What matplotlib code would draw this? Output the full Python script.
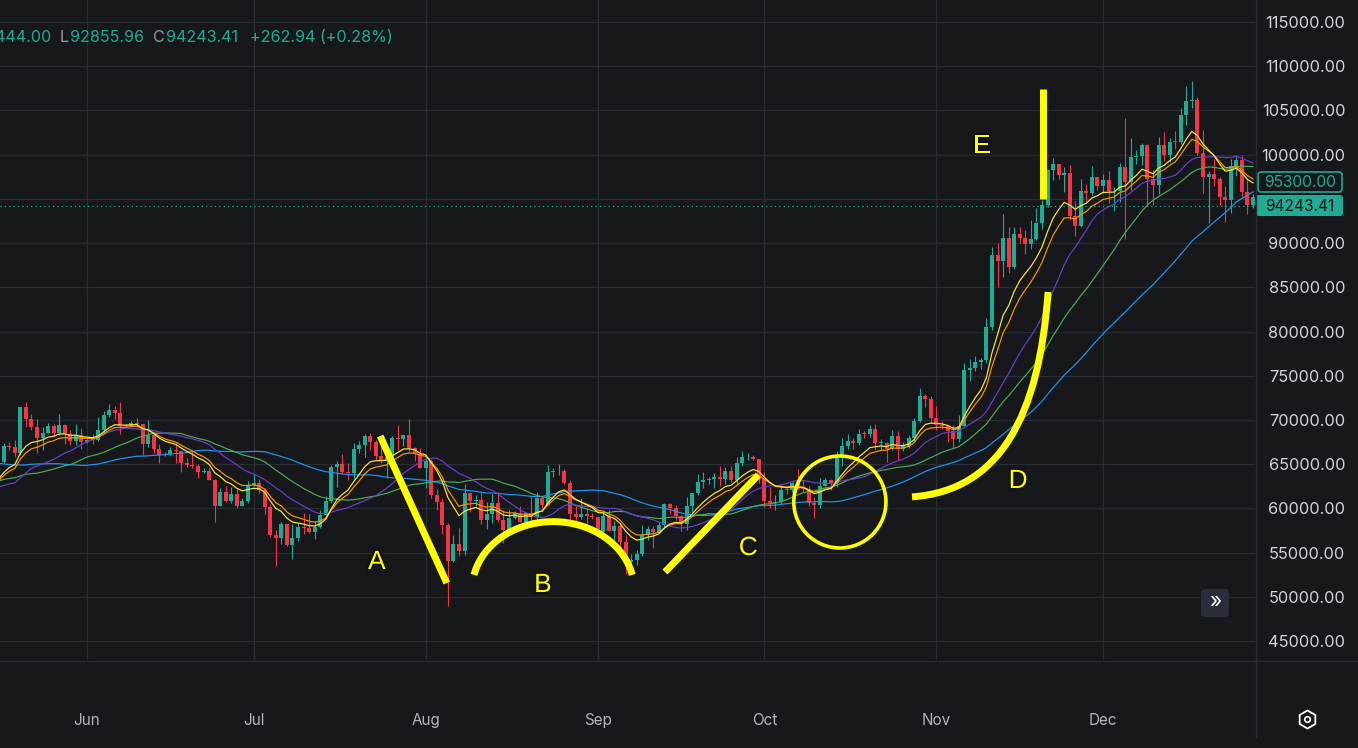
import numpy as np
import pandas as pd
import matplotlib.pyplot as plt
import matplotlib.patheffects as pe
from matplotlib.patches import Ellipse, PathPatch, FancyBboxPatch
from matplotlib.path import Path

# closes from 27 Mar to 15 May 2024, only used to warm up the moving averages
warmup_close = [69455, 70744, 69892, 69645, 71333,
                69702, 65446, 65980, 68508, 67837, 68897, 69362, 71632, 69140, 70587,
                70060, 67195, 63817, 65738, 63426, 63811, 61276, 63512, 63843, 64994,
                64927, 66837, 66407, 64277, 64482, 63756, 63419, 63114, 63841, 60637,
                58254, 59123, 62889, 63892, 64031, 63162, 62334, 61188, 63049, 60793,
                60793, 61448, 62901, 61553, 66254]

# daily BTC candles, 16 May .. 28 Dec 2024 (open = previous close)
close = [65231, 67051, 66940, 66278, 71446, 70148, 69166, 67970, 68549, 69290, 68507, 69436, 68398, 67652, 68352, 67540,
         67766, 67765, 68809, 70568, 71083, 70757, 69342, 69306, 69648, 69508, 67321, 68243, 66756, 66011, 66191,
         66639, 66491, 65140, 64960, 64828, 64096, 64252, 63180, 60277, 61804, 60811, 61604, 60320, 60887, 62678,
         62851, 62029, 60173, 56977, 56639, 58230, 55849, 56705, 57899, 57741, 57334, 57889, 59204, 60797, 64724,
         65044, 64087, 63987, 66660, 67139, 68165, 67532, 65936, 65372, 65777, 67912, 67813, 68255, 66819, 66201, 64619,
         65354, 61498, 60697, 58161, 54018, 56022, 55134, 61685, 60837, 60923, 58712, 59346, 60587, 58683, 57541,
         58874, 59491, 58427, 59439, 59013, 61157, 60381, 64095, 64179, 64255, 62821, 59415, 59034, 59359, 59123, 58973,
         57301, 59132, 57487, 57971, 56160, 53962, 54160, 54869, 57042, 57635, 57338, 58132, 60498, 59993, 59132,
         58213, 60309, 61759, 62947, 63201, 63348, 63578, 63339, 64262, 63152, 65173, 65769, 65858, 65602, 63327,
         60805, 60650, 60752, 62086, 62058, 62819, 62224, 62160, 60636, 60326, 62540, 63206, 62870, 66083, 67074,
         67620, 67421, 68428, 68378, 69031, 67377, 67426, 66668, 68198, 66698, 67012, 67961, 69908, 72721, 72340, 70215,
         69482, 69289, 68741, 67811, 69359, 75639, 75905, 76545, 76778, 80474, 88701, 87955, 90584, 87250, 91032,
         90587, 89855, 90465, 92310, 94286, 98317, 98892, 97672, 97900, 93010, 91966, 95863, 95643, 97460, 96407,
         97185, 95840, 95849, 98587, 96945, 99740, 99831, 101109, 97276, 96593, 101125, 100004, 101424, 101420,
         104463, 106058, 106133, 100204, 97461, 97805, 97291, 95186, 94881, 98663, 99429, 95792, 94299, 95163]
high = [66700, 67400, 67450, 67700, 71515, 71980, 70666, 70096, 69250, 69610, 69562, 70687, 69560, 68913, 69500, 69044,
        67860, 68410, 70288, 71063, 71758, 71625, 71997, 69582, 69850, 70195, 69563, 69999, 68450, 67315, 66403,
        66992, 67244, 66492, 65727, 66482, 65067, 64520, 64524, 63369, 62292, 62480, 62371, 62189, 61198, 63058,
        63861, 63288, 62282, 60498, 57546, 58475, 58242, 58236, 58296, 59470, 59359, 58526, 59850, 61420, 64900,
        65388, 66128, 65133, 67386, 67598, 68366, 68480, 67750, 67102, 66112, 68200, 69399, 68318, 70079, 66900, 66810,
        65593, 65596, 62198, 61117, 58305, 57040, 57728, 62745, 61744, 61470, 61858, 60711, 61578, 61800, 59849,
        59817, 59700, 60284, 59618, 61400, 61820, 61400, 64955, 64513, 65000, 64491, 63210, 60236, 61166, 59944, 59462,
        59063, 59425, 59809, 58519, 58327, 56995, 54850, 55318, 58088, 58044, 57995, 58588, 60625, 60610, 60381,
        59210, 61320, 61786, 63850, 64133, 63559, 64000, 64745, 64688, 64817, 65839, 66498, 66260, 66076, 65619,
        64130, 62392, 61469, 62484, 62370, 62975, 64478, 63200, 62543, 61321, 63418, 63480, 63285, 66500, 67950,
        68424, 67939, 68969, 68694, 69400, 69519, 67836, 67474, 68850, 68775, 67454, 68332, 70270, 73620, 72961, 72700,
        71632, 69914, 69361, 69433, 70577, 76400, 76850, 77199, 76999, 81500, 89530, 89956, 93265, 91790, 91850,
        91779, 91449, 92600, 94002, 94902, 98384, 99588, 98914, 98651, 98871, 94741, 97208, 96650, 98693, 97499,
        97836, 98150, 96305, 99000, 104088, 101898, 100550, 101350, 101215, 98270, 101999, 102540, 101895, 102650,
        105250, 107780, 108353, 106524, 102800, 98100, 99540, 97448, 96416, 99520, 99963, 99963, 97294, 95525]
low = [64600, 65106, 66600, 65850, 66060, 69162, 68850, 66312, 66600, 68500, 68128, 68250, 67300, 67113, 67118, 66670,
       67400, 67257, 67612, 68567, 70383, 70119, 68420, 69168, 69200, 69232, 66051, 66900, 66304, 65078, 65871,
       66000, 65115, 64060, 64694, 64559, 63379, 63944, 63180, 58402, 60239, 60712, 60583, 60020, 60285, 60656,
       62497, 61745, 59419, 56772, 53485, 56018, 55724, 54260, 56288, 57157, 57178, 56542, 57756, 59000, 60632,
       62373, 63854, 63238, 63300, 66222, 65777, 66573, 65441, 65111, 63400, 65722, 66640, 67066, 66428, 65302, 64532,
       62248, 61200, 59850, 57122, 49000, 53973, 54558, 54730, 59579, 60242, 58286, 57642, 58392, 58433, 56078,
       57098, 58785, 58408, 57787, 58610, 58783, 59724, 60345, 63590, 63773, 62800, 58116, 57860, 58755, 57701, 58744,
       57201, 57128, 57415, 55606, 55643, 52550, 53745, 53629, 54591, 56386, 55561, 57324, 57632, 59400, 58696,
       57493, 57610, 59174, 61555, 62350, 62758, 62357, 62538, 62700, 62947, 62670, 64819, 65422, 65432, 62856,
       60164, 60000, 59828, 60459, 61675, 61824, 62128, 61860, 60300, 58946, 60048, 62487, 62050, 62457, 64800,
       66750, 66666, 67177, 68010, 68100, 66560, 66571, 65260, 66601, 65520, 66439, 66800, 67618, 69760, 71436, 69685,
       68820, 69000, 67478, 66803, 67458, 69298, 74416, 75555, 75773, 76492, 80216, 85072, 86127, 86668, 87073,
       90057, 88722, 89376, 90400, 91619, 94110, 97122, 97232, 95734, 92600, 90791, 91792, 94650, 95407, 96000,
       95693, 94500, 93578, 94660, 90500, 95981, 98910, 98844, 94150, 94256, 95500, 99311, 99205, 100610,
       101227, 103322, 105321, 100000, 95700, 92232, 96398, 94250, 92403, 93400, 97595, 95199, 93253, 94014]

dates = pd.date_range('2024-05-16', periods=len(close), freq='D')
# (kind, period, colour): simple and exponential averages on the close
ma_specs = [('sma', 50, '#2196f3'), ('sma', 30, '#4caf50'), ('sma', 20, '#6a3fd2'),
            ('ema', 12, '#ff9800'), ('ema', 9, '#ffeb3b')]

last_price = 94243.41
alert_price = 95300.00
price_ticks = list(range(45000, 115001, 5000))
header_parts = [('444.00', 'g'), ('L', 'n'), ('92855.96', 'g'), ('C', 'n'), ('94243.41', 'g'), ('+262.94 (+0.28%)', 'g')]

bg = '#17181c'
grid_c = '#2a2c33'
up_c = '#22ab94'
dn_c = '#f23645'
txt_c = '#d1d4dc'
yel = '#ffff00'

plt.rcParams['font.family'] = ['Inter', 'DejaVu Sans']

fig = plt.figure(figsize=(13.58, 7.48), dpi=100)
fig.patch.set_facecolor(bg)
ax = fig.add_axes([0, 88 / 748, 1255 / 1358, 660 / 748])
ax.set_facecolor(bg)
for s in ax.spines.values():
    s.set_visible(False)

x = np.arange(len(close))
c = np.array(close, dtype=float)
o = np.r_[warmup_close[-1], c[:-1]]
h = np.array(high, dtype=float)
l = np.array(low, dtype=float)
col = np.where(c >= o, up_c, dn_c)

ax.vlines(x, l, h, colors=col, lw=0.8, zorder=3)
ax.bar(x, np.maximum(np.abs(c - o), 90), 0.72, bottom=np.minimum(o, c), color=col, linewidth=0, zorder=3)

allc = pd.Series(warmup_close + close, dtype=float)
for kind, n, mc in ma_specs:
    if kind == 'sma':
        ma = allc.rolling(n).mean()
    else:
        ma = allc.ewm(span=n, adjust=False).mean()
    ax.plot(x, ma.iloc[len(warmup_close):].values, color=mc, lw=0.85, zorder=4)

ax.axhline(last_price, color=up_c, lw=0.9, ls=(0, (1, 2.5)), zorder=5)

ax.set_xlim(0.33, 226.37)
ax.set_ylim(42853, 117488)
month_idx = np.where(dates.day == 1)[0]
ax.set_xticks(month_idx)
ax.set_xticklabels([d.strftime('%b') for d in dates[month_idx]])
ax.set_yticks(price_ticks)
# the tick label hidden under the price boxes stays empty, as on the chart
ax.set_yticklabels(['' if abs(p - last_price) < 2000 else f'{p:.2f}' for p in price_ticks])
ax.yaxis.tick_right()
ax.tick_params(axis='y', length=0, pad=65, labelsize=11.8, labelcolor=txt_c)
ax.tick_params(axis='x', length=0, pad=38.5, labelsize=11, labelcolor='#b2b5be')
for t in ax.get_yticklabels():
    t.set_ha('right')
ax.grid(True, color=grid_c, lw=0.9, zorder=0)

# hand-drawn annotations, anchored in (day, price) like chart drawings
stroke = [pe.withStroke(linewidth=3, foreground='#111111')]
ax.plot([68.8, 80.8], [68184, 51560], color=yel, lw=5, solid_capstyle='butt', zorder=6)
tb = np.linspace(np.pi * 0.93, np.pi * 0.07, 60)
ax.plot(99.95 + 14.6 * np.cos(tb), 50800 + 7700 * np.sin(tb), color=yel, lw=5, solid_capstyle='butt', zorder=6)
ax.plot([120.1, 136.9], [52803, 63773], color=yel, lw=5, solid_capstyle='butt', zorder=6)
ax.add_patch(Ellipse((151.6, 60720), 16.6, 10400, fill=False, ec=yel, lw=2.6, zorder=6))
dpath = Path([(164.6, 61300), (180.5, 62000), (187.5, 70500), (189.1, 84467)],
             [Path.MOVETO, Path.CURVE4, Path.CURVE4, Path.CURVE4])
ax.add_patch(PathPatch(dpath, fill=False, ec=yel, lw=5, capstyle='butt', zorder=6))
ax.plot([188.2, 188.2], [107423, 94984], color=yel, lw=5, solid_capstyle='butt', zorder=6)
for lab, lx, ly in [('A', 68.2, 53935), ('B', 98.1, 51333), ('C', 135.1, 55518), ('D', 183.7, 63094), ('E', 177.2, 100977)]:
    ax.text(lx, ly, lab, color=yel, fontsize=19, ha='center', va='center', family=['Liberation Sans'],
            path_effects=stroke, zorder=7)

# UI overlay in pixel coordinates
ov = fig.add_axes([0, 0, 1, 1])
ov.set_xlim(0, 1358)
ov.set_ylim(748, 0)
ov.axis('off')
ov.patch.set_alpha(0)
ov.plot([1255.5, 1255.5], [0, 737], color=grid_c, lw=1)
ov.plot([0, 1358], [660.5, 660.5], color=grid_c, lw=1)

hx = [51, 60, 70, 153, 166, 250]
for (s, kind), px in zip(header_parts, hx):
    ov.text(px, 37, s, color=up_c if kind == 'g' else '#9598a1', fontsize=11.6,
            ha='right' if px == hx[0] else 'left', va='center')

ov.add_patch(FancyBboxPatch((1258, 172), 84, 20, boxstyle='round,pad=0,rounding_size=3',
                            fc=bg, ec=up_c, lw=1.2))
ov.text(1300, 182, f'{alert_price:.2f}', color=up_c, fontsize=11.2, ha='center', va='center')
ov.add_patch(FancyBboxPatch((1256, 195), 87, 21, boxstyle='round,pad=0,rounding_size=3',
                            fc=up_c, ec=up_c, lw=0))
ov.text(1300, 206, f'{last_price:.2f}', color='#101010', fontsize=11.2, ha='center', va='center')

ov.add_patch(FancyBboxPatch((1201, 589), 28, 28, boxstyle='round,pad=0,rounding_size=4',
                            fc='#2a2e39', ec='none'))
ov.text(1215, 602, '»', color='white', fontsize=15, ha='center', va='center')
ov.plot([1307], [719], marker='h', ms=13, mfc='none', mec='white', mew=1.3)
ov.plot([1307], [719], marker='o', ms=4, mfc='none', mec='white', mew=1.2)

fig.savefig('out.png', dpi=100, facecolor=bg)
